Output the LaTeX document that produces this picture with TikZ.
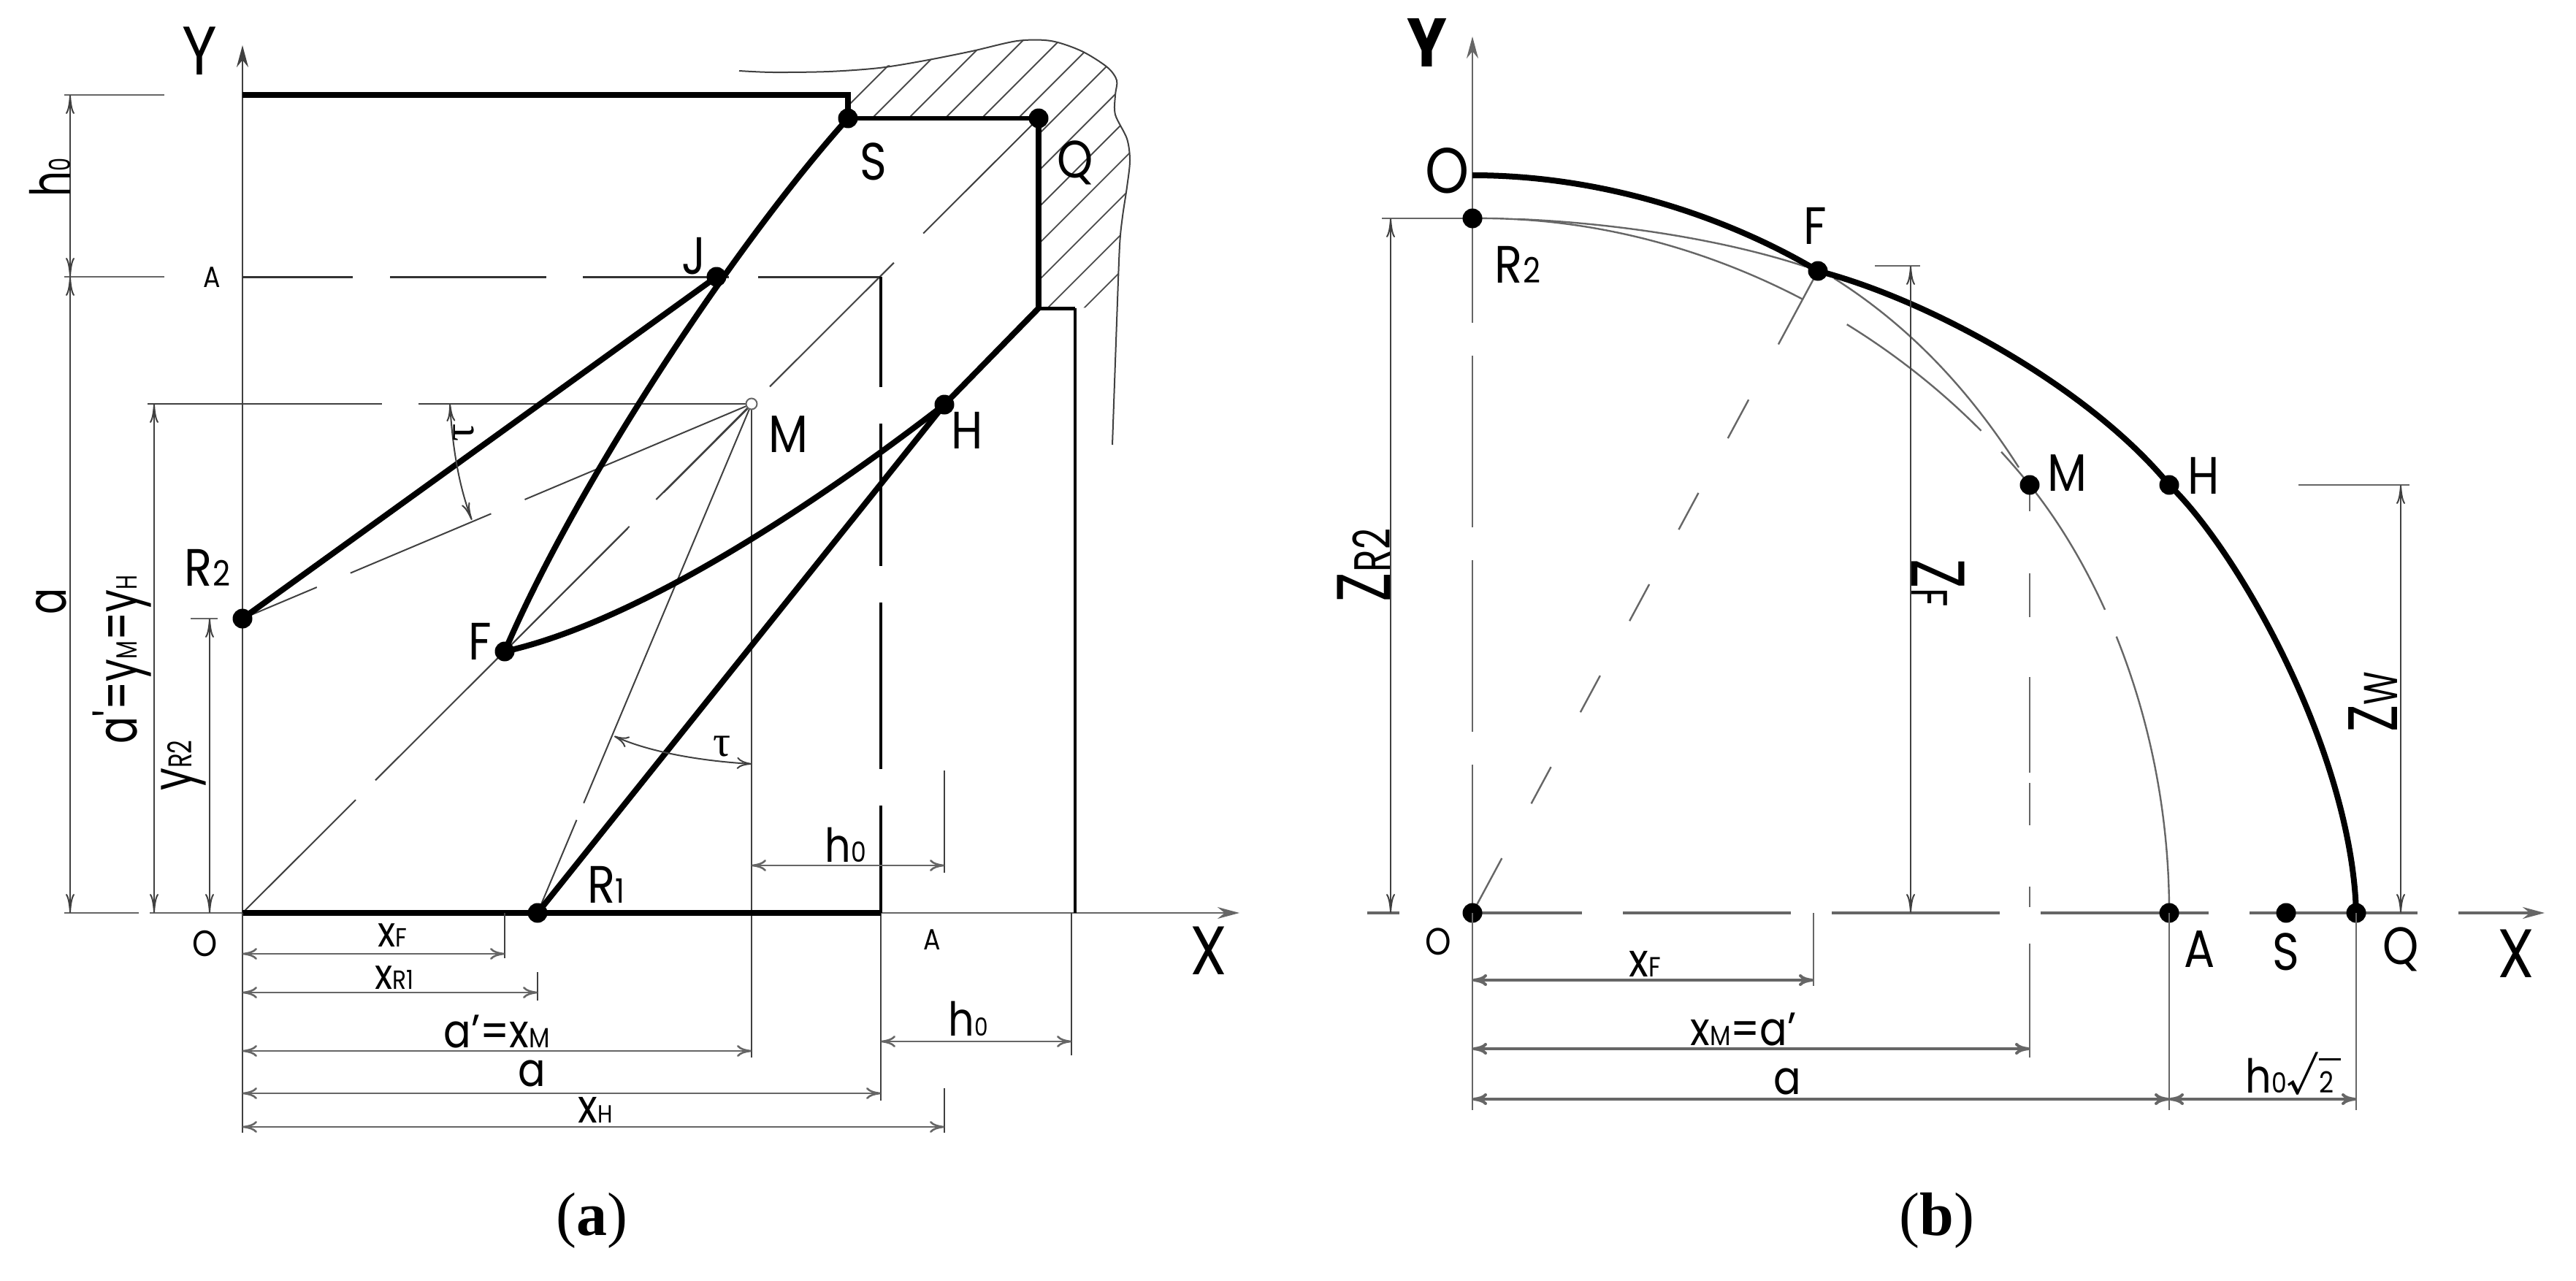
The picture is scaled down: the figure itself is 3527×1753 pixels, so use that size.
\documentclass[tikz,border=0pt]{standalone}
\usepackage{fontspec}
\setmainfont{Poppins}[FakeStretch=0.87]
\newfontfamily\rotfont{Poppins}[FakeStretch=0.72]
\newfontfamily\capfont{Liberation Serif}
\usetikzlibrary{arrows.meta}
\newcommand{\fnt}[1]{\fontsize{#1}{#1}\selectfont}
\newcommand{\subt}[2]{{\fontsize{#1}{#1}\selectfont #2}}
\tikzset{
  thickln/.style={line width=8pt,black,line join=miter},
  medln/.style={line width=4pt,black},
  thinln/.style={line width=2pt,black!75},
  thingray/.style={line width=2.4pt,black!60},
  dimln/.style={line width=2.6pt,black!60,{To[length=20pt,width=16pt]}-{To[length=20pt,width=16pt]}},
  vdim/.style={line width=2pt,black!75,{To[length=26pt,width=12pt]}-{To[length=26pt,width=12pt]}},
  ptdot/.style={circle,fill=black,inner sep=0pt,minimum size=27pt},
  biglab/.style={inner sep=0pt,font=\fnt{94}},
  lab/.style={inner sep=0pt,font=\fnt{72}},
  smalllab/.style={inner sep=0pt,font=\fnt{40}},
  dimt/.style={inner sep=0pt,font=\fnt{64}},
  rotup/.style={inner sep=0pt,anchor=base,rotate=90,font=\rotfont},
  rotdown/.style={inner sep=0pt,anchor=base,rotate=-90,font=\rotfont},
  captext/.style={inner sep=0pt,font=\capfont\fnt{84}},
  axisarrow/.style={-{Stealth[length=30pt,width=16pt]}},
}
\begin{document}
\begin{tikzpicture}[x=1pt,y=-1pt]
\useasboundingbox (0,0) rectangle (3527,1753);
\fill[white] (0,0) rectangle (3527,1753);
%% ---------- panel (a) ----------
\coordinate (aO) at (332,1250);
\coordinate (aTop) at (332,130);
\coordinate (aSt) at (1161,130);
\coordinate (aS) at (1161,162);
\coordinate (aQ) at (1422,162);
\coordinate (aN) at (1422,422);
\coordinate (aN2) at (1472,422);
\coordinate (aN3) at (1472,1250);
\coordinate (aH) at (1293,554);
\coordinate (aR) at (736,1250);
\coordinate (aJ) at (981,379);
\coordinate (aF) at (691,892);
\coordinate (aM) at (1029,553);
\coordinate (aRt) at (332,847);
\coordinate (aAl) at (332,379);
\coordinate (aAc) at (1206,379);
\coordinate (aAb) at (1206,1250);
% hatch
\begin{scope}
\clip plot[smooth,tension=0.5] coordinates {(1161,130)(1204,93)(1266,83)(1331,70)(1393,56)(1439,56)(1481,70)(1516,92)(1529,110)(1527,130)(1527,157)(1543,190)(1547,220)(1543,256)(1537,296)(1533,336)(1529,421)} -- (aN) -- (aQ) -- (aS) -- cycle;
\foreach \c in {706,756,...,1456}{
  \draw[line width=1.8pt,black!70] (\c,500) -- (\c+500,0);
}
\end{scope}
\draw[thinln] plot[smooth,tension=0.5] coordinates {(1012,97)(1058,99)(1135,98)(1204,93)(1266,83)(1331,70)(1393,56)(1439,56)(1481,70)(1516,92)(1529,110)(1527,130)(1527,157)(1543,190)(1547,220)(1543,256)(1537,296)(1533,336)(1529,440)(1523,609)};
% axes
\draw[thinln,axisarrow] (332,1250) -- (332,62);
\draw[thingray,axisarrow] (205,1250) -- (1697,1250);
\draw[thingray] (88,1250) -- (190,1250);
% thin construction
\draw[thinln,dash pattern=on 223pt off 57pt on 240pt off 35pt on 170pt off 70pt on 488pt off 38pt on 300pt off 0pt] (aQ) -- (aO);
\draw[thinln,dash pattern=on 337pt off 50pt on 209pt off 50pt on 300pt off 0pt] (aM) -- (aRt);
\draw[thinln,dash pattern=on 185pt off 52pt on 1000pt off 0pt] (aM) -- (aF);
\draw[thinln,dash pattern=on 593pt off 25pt on 300pt off 0pt] (aM) -- (aR);
\draw[thinln] (aM) -- (1029,1448);
\draw[thinln,dash pattern=on 321pt off 50pt on 1000pt off 0pt] (202,553) -- (aM);
\draw[line width=3pt,black!80,dash pattern=on 151pt off 51pt on 214pt off 50pt on 200pt off 40pt on 300pt off 0pt] (aAl) -- (aAc);
\draw[line width=3.2pt,black,dash pattern=on 151pt off 50pt on 195pt off 50pt on 228pt off 50pt on 1000pt off 0pt] (aAc) -- (aAb);
\draw[thinln] (aAb) -- (1206,1507);
\draw[medln,line width=4.5pt] (aN2) -- (aN3);
\draw[thinln] (1467,1250) -- (1467,1445);
% thick profile
\draw[thickln] (aTop) -- (aSt) -- (aS);
\draw[thickln,line width=6.5pt] (aS) -- (aQ);
\draw[thickln] (aQ) -- (aN);
\draw[medln,line width=5pt] (aN) -- (aN2);
\draw[thickln] (aN) -- (aH) -- (aR);
\draw[thickln] (aO) -- (aAb);
\draw[thickln] (aRt) -- (aJ);
\draw[thickln] (aS) .. controls (1010,330) and (790,660) .. (aF);
\draw[thickln] (aF) .. controls (880,850) and (1130,680) .. (aH);
% dots
\node[ptdot] (paS) at (aS) {};
\node[ptdot] (paQ) at (aQ) {};
\node[ptdot] (paJ) at (aJ) {};
\node[ptdot] (paH) at (aH) {};
\node[ptdot] (paF) at (aF) {};
\node[ptdot] (paR2) at (aRt) {};
\node[ptdot] (paR1) at (aR) {};
\node[circle,draw=black!60,fill=white,line width=2pt,inner sep=0pt,minimum size=15pt] (paM) at (aM) {};
% left dimension lines
\draw[thingray] (88,130) -- (225,130);
\draw[thingray] (88,379) -- (225,379);
\draw[thingray] (261,847) -- (298,847);
\draw[vdim] (96,130) -- (96,379);
\draw[vdim] (96,379) -- (96,1250);
\draw[vdim] (211,553) -- (211,1250);
\draw[vdim] (287,847) -- (287,1250);
% angle arcs
\draw[thinln,{To[length=24pt,width=12pt]}-{To[length=24pt,width=12pt]}] (616,553) .. controls (620,620) and (630,670) .. (646,712);
\draw[thinln,{To[length=20pt,width=16pt]}-{To[length=20pt,width=16pt]}] (841,1008) .. controls (890,1030) and (960,1042) .. (1029,1046);
% bottom dimensions
\draw[thinln] (aO) -- (332,1551);
\draw[thinln] (736,1331) -- (736,1370);
\draw[thinln] (691,1250) -- (691,1312);
\draw[thinln] (1293,1055) -- (1293,1195);
\draw[thinln] (1293,1490) -- (1293,1551);
\draw[dimln] (332,1306) -- (691,1306);
\draw[dimln] (332,1359) -- (736,1359);
\draw[dimln] (332,1439) -- (1029,1439);
\draw[dimln] (332,1497) -- (1206,1497);
\draw[dimln] (332,1543) -- (1293,1543);
\draw[dimln] (1029,1185) -- (1293,1185);
\draw[dimln] (1206,1426) -- (1467,1426);
% labels a
\node[biglab] (laY) at (273,70) {Y};
\node[biglab] (laX) at (1655,1302) {X};
\node[lab] (laS) at (1196,221) {S};
\node[lab] (laQ) at (1472,223) {Q};
\node[lab] (laJ) at (950,351) {J};
\node[lab] (laM) at (1079,595) {M};
\node[lab] (laH) at (1324,589) {H};
\node[lab] (laF) at (657,878) {F};
\node[lab] (laR2) at (284,777) {R\subt{48}{2}};
\node[lab] (laR1) at (830,1211) {R\subt{46}{1}};
\node[smalllab] (laA1) at (290,380) {A};
\node[smalllab] (laA2) at (1276,1287) {A};
\node[inner sep=0pt,font=\fnt{50}] (laO) at (281,1292) {O};
\node[rotup,font=\rotfont\fnt{76}] (lah0v) at (96,243) {h\subt{40}{0}};
\node[rotup,font=\rotfont\fnt{74}] (laav) at (90,823) {a};
\node[rotup,font=\rotfont\fnt{76}] (layM) at (187,903) {a'=y\subt{40}{M}=y\subt{40}{H}};
\node[rotup,font=\rotfont\fnt{76}] (layR) at (262,1048) {y\subt{45}{R2}};
\node[inner sep=0pt,font=\capfont\fnt{60},rotate=90] (latau1) at (635,592) {τ};
\node[inner sep=0pt,font=\capfont\fnt{60}] (latau2) at (989,1022) {τ};
\node[dimt] (lah0a) at (1158,1157) {h\subt{38}{0}};
\node[dimt] (lah0b) at (1326,1395) {h\subt{34}{0}};
\node[dimt,font=\fnt{58}] (laxF) at (537,1281) {x\subt{36}{F}};
\node[dimt,font=\fnt{58}] (laxR) at (540,1339) {x\subt{36}{R1}};
\node[dimt] (laaxM) at (680,1412) {a'=x\subt{38}{M}};
\node[dimt] (laa) at (728,1470) {a};
\node[dimt] (laxH) at (815,1520) {x\subt{34}{H}};
\node[captext] (capa) at (810,1671) {(\textbf{a})};
%% ---------- panel (b) ----------
\coordinate (bO) at (2016,1250);
\coordinate (bR) at (2016,299);
\coordinate (bF) at (2489,371);
\coordinate (bM) at (2779,664);
\coordinate (bH) at (2970,664);
\coordinate (bA) at (2970,1250);
\coordinate (bS) at (3130,1250);
\coordinate (bQ) at (3226,1250);
\draw[line width=3.5pt,black!60,axisarrow,dash pattern=on 230pt off 56pt,dash phase=80pt] (bO) -- (3484,1250);
\draw[line width=3.5pt,black!60] (1872,1250) -- (1916,1250);
\draw[thingray,axisarrow,dash pattern=on 203pt off 45pt on 235pt off 45pt on 235pt off 45pt on 1000pt off 0pt] (bO) -- (2016,50);
\draw[thingray,dash pattern=on 85pt off 85pt on 57pt off 85pt on 57pt off 85pt on 57pt off 85pt on 57pt off 85pt on 60pt off 86pt on 200pt off 0pt] (bO) -- (bF);
\draw[thingray,dash pattern=on 36pt off 85pt on 60pt off 82pt on 131pt off 14pt on 58pt off 84pt on 28pt off 50pt on 156pt off 0pt] (bM) -- (2779,1448);
\draw[thingray] (bR) -- (1892,299);
\draw[thingray,dash pattern=on 470pt off 70pt on 235pt off 40pt on 1000pt off 0pt] (bR) .. controls (2300,295) and (2590,430) .. (bM);
\draw[thingray,dash pattern=on 200pt off 40pt on 1000pt off 0pt] (bM) .. controls (2880,790) and (2970,1000) .. (bA);
\draw[thingray] (2078,300) .. controls (2200,305) and (2350,325) .. (2472,365);
\draw[thingray] (2511,381) .. controls (2620,450) and (2700,540) .. (2764,640);
\draw[thickln] (2016,240) .. controls (2200,240) and (2370,300) .. (bF);
\draw[thickln] (bF) .. controls (2640,410) and (2860,530) .. (bH);
\draw[thickln] (bH) .. controls (3065,755) and (3220,1030) .. (bQ);
\node[ptdot] (pbO) at (bO) {};
\node[ptdot] (pbR) at (bR) {};
\node[ptdot] (pbF) at (bF) {};
\node[ptdot] (pbM) at (bM) {};
\node[ptdot] (pbH) at (bH) {};
\node[ptdot] (pbA) at (bA) {};
\node[ptdot] (pbS) at (bS) {};
\node[ptdot] (pbQ) at (bQ) {};
\draw[thingray] (2567,364) -- (2629,364);
\draw[thingray] (3147,664) -- (3299,664);
\draw[vdim] (1904,299) -- (1904,1250);
\draw[vdim] (2616,364) -- (2616,1250);
\draw[vdim] (3287,664) -- (3287,1250);
\draw[thingray] (bO) -- (2016,1520);
\draw[thingray] (2483,1250) -- (2483,1350);
\draw[thingray] (bA) -- (2970,1520);
\draw[thingray] (bQ) -- (3226,1520);
\draw[dimln,line width=4pt] (2016,1342) -- (2483,1342);
\draw[dimln,line width=4pt] (2016,1436) -- (2779,1436);
\draw[dimln,line width=4pt] (2016,1505) -- (2970,1505);
\draw[dimln,line width=4pt] (2970,1505) -- (3226,1505);
\node[biglab,font=\bfseries\fnt{94}] (lbY) at (1954,59) {Y};
\node[biglab] (lbX) at (3445,1306) {X};
\node[inner sep=0pt,font=\fnt{88}] (lbOt) at (1982,234) {O};
\node[lab] (lbR) at (2078,362) {R\subt{48}{2}};
\node[lab] (lbF) at (2485,309) {F};
\node[lab] (lbM) at (2830,648) {M};
\node[lab] (lbH) at (3017,651) {H};
\node[lab] (lbA) at (3012,1300) {A};
\node[lab] (lbS) at (3130,1303) {S};
\node[lab] (lbQ) at (3287,1300) {Q};
\node[inner sep=0pt,font=\fnt{52}] (lbO) at (1969,1289) {O};
\node[rotup,font=\rotfont\fnt{104}] (lbZR) at (1903,774) {Z\subt{70}{R2}};
\node[rotdown,font=\rotfont\fnt{104}] (lbZF) at (2617,798) {Z\subt{70}{F}};
\node[rotup,font=\rotfont\fnt{96}] (lbZW) at (3282,961) {Z\subt{65}{W}};
\node[dimt] (lbxF) at (2252,1320) {x\subt{38}{F}};
\node[dimt] (lbxM) at (2387,1409) {x\subt{38}{M}=a'};
\node[dimt] (lba) at (2447,1481) {a};
\node[dimt] (lbh) at (3135,1470) {h\subt{38}{0}\subt{64}{√}\rlap{\raisebox{44pt}{\rule{30pt}{3pt}}}\subt{40}{2}};
\node[captext] (capb) at (2652,1671) {(\textbf{b})};
\end{tikzpicture}
\end{document}
